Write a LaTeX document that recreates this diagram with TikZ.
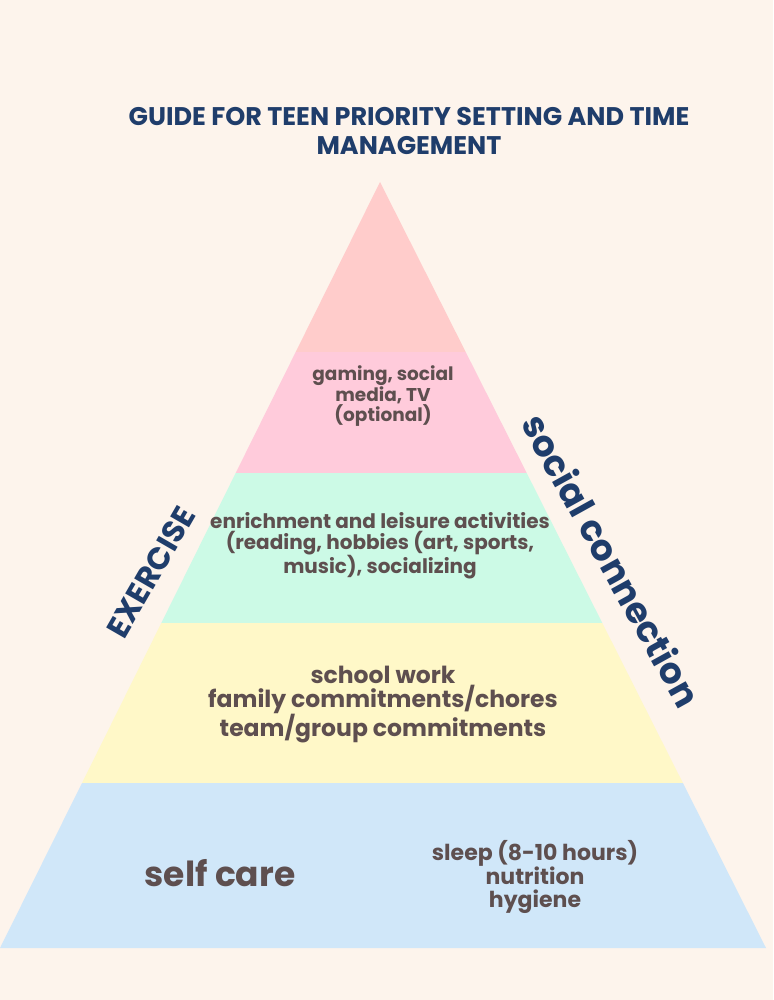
\documentclass[tikz,border=0pt]{standalone}
\usepackage{fontspec}
\setmainfont{Poppins}
\usepackage{tikz}
\usetikzlibrary{positioning,calc}
\definecolor{PageCream}{HTML}{FDF4EC}
\definecolor{TopSalmon}{HTML}{FFCCCB}
\definecolor{BandPink}{HTML}{FFCBDB}
\definecolor{BandMint}{HTML}{CCFAE6}
\definecolor{BandButter}{HTML}{FFF8C8}
\definecolor{BandSky}{HTML}{D0E7F9}
\definecolor{InkBrown}{HTML}{5E4F4F}
\definecolor{InkNavy}{HTML}{1F3D6B}

\begin{document}
\begin{tikzpicture}[
  x=1pt,y=-1pt,
  every node/.style={align=center,inner sep=0pt},
  lbl/.style={text=InkBrown,font=\bfseries\fontsize{18.5}{19.5}\selectfont},
  side/.style={text=InkNavy,font=\bfseries\fontsize{31}{34}\selectfont},
  ttl/.style={text=InkNavy,font=\bfseries\fontsize{25.5}{29}\selectfont}
]
\fill[PageCream] (0,0) rectangle (773,1000);
\useasboundingbox (0,0) rectangle (773,1000);
% pyramid layers, top to bottom
\fill[TopSalmon] (380,182) -- (465.7,352) -- (295.7,352) -- cycle;
\fill[BandPink] (295.7,352) -- (465.7,352) -- (526.7,473) -- (235.7,473) -- cycle;
\fill[BandMint] (235.7,473) -- (526.7,473) -- (602.3,623) -- (161.3,623) -- cycle;
\fill[BandButter] (161.3,623) -- (602.3,623) -- (682.9,783) -- (82,783) -- cycle;
\fill[BandSky] (82,783) -- (682.9,783) -- (766,948) -- (0,948) -- cycle;
% title
\node[ttl] (title) at (409,131) {GUIDE FOR TEEN PRIORITY SETTING AND TIME\\MANAGEMENT};
% layer texts
\node[lbl] (gaming) at (383,396) {gaming, social\\media, TV\\(optional)};
\node[lbl,font=\bfseries\fontsize{20}{20.5}\selectfont] (enrich) at (380,546) {enrichment and leisure activities\\(reading, hobbies (art, sports,\\music), socializing};
\node[lbl,font=\bfseries\fontsize{23.5}{23.5}\selectfont] (school) at (383,705) {school work\\family commitments/chores\\team/group commitments};
\node[lbl,font=\bfseries\fontsize{34.5}{36}\selectfont] (selfcare) at (220,873) {self care};
\node[lbl,font=\bfseries\fontsize{22}{23.5}\selectfont] (sleep) at (535,877) {sleep (8-10 hours)\\nutrition\\hygiene};
% side labels
\node[side,rotate=60] (exercise) at (151,572) {EXERCISE};
\node[side,font=\bfseries\fontsize{36}{38}\selectfont,rotate=-61] (social) at (612,560) {social connection};
\end{tikzpicture}
\end{document}
